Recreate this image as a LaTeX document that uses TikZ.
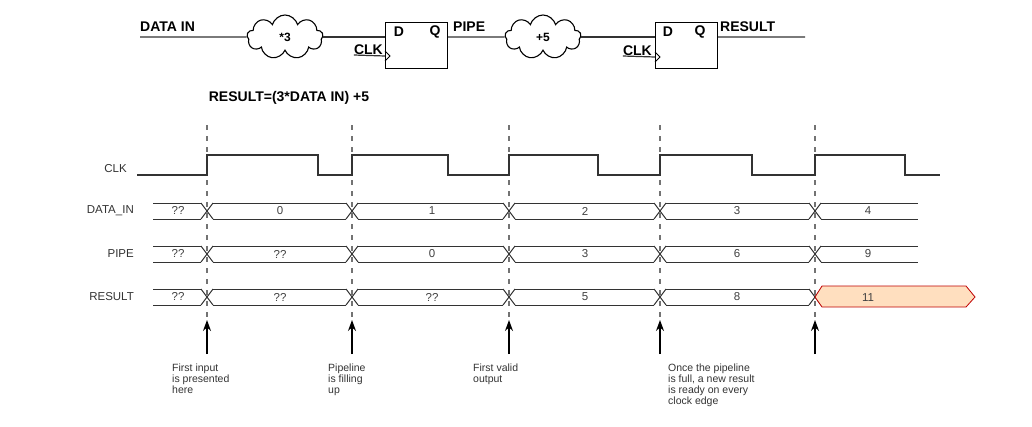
\documentclass[tikz,border=0pt]{standalone}
\usepackage{fontspec}
\setmainfont{Liberation Sans}
\usetikzlibrary{shapes.symbols,arrows.meta}
\begin{document}
\begin{tikzpicture}[x=1pt,y=-1pt,
  lbl/.style={font=\fontsize{14}{15}\selectfont\bfseries,inner sep=0pt},
  sig/.style={font=\fontsize{11.5}{12}\selectfont,inner sep=0pt,text=black!80},
  val/.style={font=\fontsize{11.5}{12}\selectfont,inner sep=0pt,text=black!75},
  note/.style={font=\fontsize{10.5}{11}\selectfont,inner sep=0pt,align=left,anchor=north west,text=black!80},
  wire/.style={line width=1.2pt,black!80},
  cl/.style={cloud,cloud puffs=9,cloud ignores aspect,draw,line width=1.1pt,minimum width=76pt,minimum height=44pt,inner sep=0pt,font=\fontsize{12}{13}\selectfont\bfseries},
  ff/.style={draw,line width=1.1pt,minimum width=62pt,minimum height=46pt,inner sep=0pt}]
\useasboundingbox (0,0) rectangle (1032,426);
% ---- circuit
\node[lbl,anchor=south west] (din) at (140,32) {DATA IN};
\node[cl] (c1) at (285,37) {*3};
\node[ff,anchor=north west] (f1) at (385,22) {};
\node[lbl] (d1) at (399,32) {D};
\node[lbl] (q1) at (435,32) {Q};
\node[lbl,anchor=south east] (k1) at (383,55) {CLK};
\node[lbl,anchor=south west] (pipe) at (453,32) {PIPE};
\node[cl] (c2) at (543,37) {+5};
\node[ff,anchor=north west] (f2) at (655,22) {};
\node[lbl] (d2) at (668,32) {D};
\node[lbl] (q2) at (700,32) {Q};
\node[lbl,anchor=south east] (k2) at (652,56) {CLK};
\node[lbl,anchor=south west] (res) at (720,32) {RESULT};
\coordinate (e0) at (140,37); \coordinate (e1) at (805,37);
\draw[wire] (e0) -- (c1.west);
\draw[wire] (c1.east) -- (f1.west |- c1.east);
\draw[wire] (f1.east |- c1.east) -- (c2.west);
\draw[wire] (c2.east) -- (f2.west |- c2.east);
\draw[wire] (f2.east |- c2.east) -- (e1);
\draw[wire] (k1.south west) -- (385,56);
\draw[wire] (k2.south west) -- (655,57);
\draw[line width=0.9pt] (385,51) -- (390,56) -- (385,61);
\draw[line width=0.9pt] (655,52) -- (660,57) -- (655,62);
\node[lbl] (eq) at (289,98) {RESULT=(3*DATA IN) +5};
% ---- timing
\foreach \x in {207,352,509,660,815}
  \draw[black!55,line width=1.3pt,dash pattern=on 5pt off 6pt] (\x,125) -- (\x,335);
\node[sig,anchor=east] (lclk) at (127,169) {CLK};
\draw[wire] (137,175) -- (207,175) -- (207,155) -- (318,155) -- (318,175) -- (352,175) -- (352,155) -- (448,155) -- (448,175) -- (509,175) -- (509,155) -- (598,155) -- (598,175) -- (660,175) -- (660,155) -- (752,155) -- (752,175) -- (815,175) -- (815,155) -- (905,155) -- (905,175) -- (940,175);
\foreach \y/\name/\a/\b/\c/\d/\e/\f in {211/DATA\_IN/??/0/1/2/3/4, 254/PIPE/??/??/0/3/6/9, 297/RESULT/??/??/??/5/8/11}{
  \node[sig,anchor=east] at (134,\y) {\name};
  \draw[wire,line width=1pt] (153,\y-8) -- (201,\y-8) (153,\y+8) -- (201,\y+8);
  \foreach \p/\q in {207/352,352/509,509/660,660/815}
    \draw[wire,line width=1pt] (\p+6,\y-8) -- (\q-6,\y-8) (\p+6,\y+8) -- (\q-6,\y+8);
  \foreach \t in {207,352,509,660,815}
    \draw[wire,line width=1pt] (\t-6,\y-8) -- (\t+6,\y+8) (\t-6,\y+8) -- (\t+6,\y-8);
  \draw[wire,line width=1pt] (821,\y-8) -- (918,\y-8) (821,\y+8) -- (918,\y+8);
  \node[val] at (178,\y-1) {\a};
  \node[val] at (280,\y) {\b};
  \node[val] at (432,\y) {\c};
  \node[val] at (585,\y) {\d};
  \node[val] at (737,\y) {\e};
  \node[val] at (868,\y) {\f};
}
\draw[red!75!black,fill=orange!25,line width=0.8pt] (815,297) -- (822,286) -- (966,286) -- (975,297) -- (966,307) -- (822,307) -- cycle;
\node[val] (r11) at (868,298) {11};
\foreach \x in {207,352,509,660,815}
  \draw[-{Stealth[length=11pt,width=8pt]},line width=1.2pt] (\x,354) -- (\x,320);
\node[note] (n1) at (172,364) {First input\\is presented\\here};
\node[note] (n2) at (328,364) {Pipeline\\is filling\\up};
\node[note] (n3) at (473,364) {First valid\\output};
\node[note] (n4) at (668,364) {Once the pipeline\\is full, a new result\\is ready on every\\clock edge};
\end{tikzpicture}
\end{document}
